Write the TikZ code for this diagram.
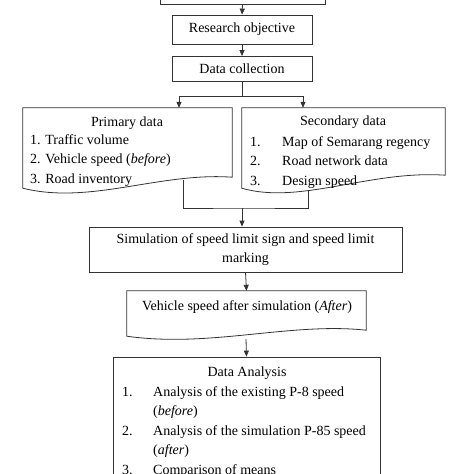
\documentclass[tikz,border=0pt]{standalone}
\usepackage{fontspec}
\setmainfont{Liberation Serif}
\usetikzlibrary{positioning}
\usetikzlibrary{arrows.meta}

\begin{document}
\begin{tikzpicture}[x=1pt, y=-1pt, >={Triangle[length=6pt,width=5pt]},
	every node/.style={font=\fontsize{14}{19.5}\selectfont},
	line/.style={draw=black!80, line width=0.8pt},
	box/.style={rectangle, draw=black!80, line width=0.8pt, inner sep=0pt},
	docbox/.style={rectangle, inner sep=0pt},
	txt/.style={inner sep=0pt, anchor=base}]
				
				\useasboundingbox (0,0) rectangle (474,474);
				\clip (0,0) rectangle (474,474);
				
				\node[box, minimum width=165pt, minimum height=40pt] (TOP) at (242.5,-16) {};
				\node[box, minimum width=140pt, minimum height=29pt] (RO) at (242,29.5) {Research objective};
				\node[box, minimum width=140pt, minimum height=25pt] (DC) at (242,69) {Data collection};
				
				\draw[line,->] (TOP.south) -- (RO.north);
				\draw[line,->] (RO.south) -- (DC.north);
				
				\node[docbox, minimum width=209pt, minimum height=80pt] (PD) at (127.5,148) {};
				\draw[line] (PD.north west) -- (PD.north east) -- ([yshift=11pt]PD.south east)
					.. controls (160,172) and (90,205) .. (PD.south west) -- cycle;
				\node[txt] (PDt) at (127,126) {Primary data};
				\node[txt, anchor=base west] (PDl) at (30,144) {\begin{tabular}[t]{@{}l@{}}
					1. Traffic volume\\ 2. Vehicle speed (\textit{before})\\ 3. Road inventory\end{tabular}};
				
				\node[docbox, minimum width=203pt, minimum height=80pt] (SD) at (343.5,148) {};
				\draw[line] (SD.north west) -- (SD.north east) -- ([yshift=13pt]SD.south east)
					.. controls (370,170) and (300,205) .. (SD.south west) -- cycle;
				\node[txt] (SDt) at (343,125) {Secondary data};
				\node[txt, anchor=base west] (SDl) at (250,146) {\begin{tabular}[t]{@{}p{32pt}@{}l@{}}
					1. & Map of Semarang regency\\ 2. & Road network data\\ 3. & Design speed\end{tabular}};
				
				\coordinate (split) at (242,96);
				\coordinate (pl) at (179,96);
				\coordinate (sl) at (303,96);
				
				\draw[line] (DC.south) -- (split);
				\draw[line] (pl) -- (sl);
				\draw[line,->] (pl) -- (pl |- PD.north);
				\draw[line,->] (sl) -- (sl |- SD.north);
				
				\node[box, minimum width=313pt, minimum height=45pt, align=center] (SIM) at (245.5,249.5)
					{Simulation of speed limit sign and speed limit\\marking};
				
				\coordinate (pb) at (183,180);
				\coordinate (sb) at (308,191);
				\coordinate (join) at (242,208);
				
				\draw[line] (pb) |- (join) -| (sb);
				\draw[line,->] (join) -- (join |- SIM.north);
				
				\node[docbox, minimum width=239pt, minimum height=45pt] (VS) at (246.5,313.5) {};
				\draw[line] (VS.north west) -- (VS.north east) -- ([yshift=6pt]VS.south east)
					.. controls (290,322) and (210,348) .. (VS.south west) -- cycle;
				\node[txt] (VSt) at (247,310) {Vehicle speed after simulation (\textit{After})};
				
				\draw[line,->] (SIM.south) -- (VS.north);
				
				\node[box, minimum width=267pt, minimum height=150pt] (DA) at (246.5,432) {};
				\node[txt] (DAt) at (247,376) {Data Analysis};
				\node[txt, anchor=base west] (DAl) at (122,396) {\begin{tabular}[t]{@{}p{31pt}@{}l@{}}
					1. & Analysis of the existing P-8 speed\\ & (\textit{before})\\
					2. & Analysis of the simulation P-85 speed\\ & (\textit{after})\\
					3. & Comparison of means\end{tabular}};
				
				\coordinate (vb) at (246,339);
				\draw[line,->] (vb) -- (DA.north);
				
			\end{tikzpicture}
\end{document}
